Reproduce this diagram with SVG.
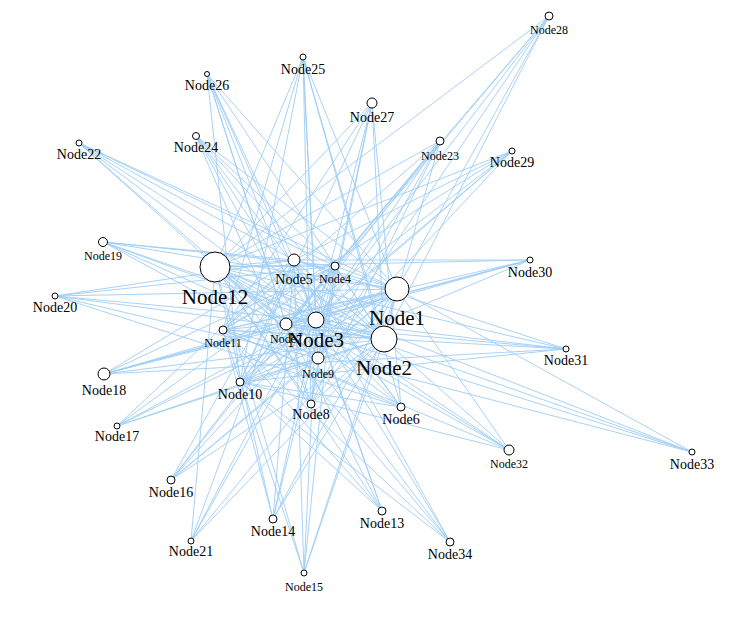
<svg xmlns="http://www.w3.org/2000/svg" width="745" height="620" viewBox="0 0 745 620">
<style>
.e{fill:none;stroke:#9fcdf5;stroke-width:1;stroke-opacity:0.9}
.n{fill:#fff;stroke:#000;stroke-width:1}
text{font-family:"Liberation Serif",serif;font-size:14px;text-anchor:middle;fill:#000}
.b{font-size:21px}
.s{font-size:12px}
</style>
<rect width="745" height="620" fill="#fff"/>
<g id="edges">
<path class="e" d="M549,16L397,289M549,16L384,339M549,16L316,320M549,16L335,266M549,16L318,358M549,16L215,267M549,16L240,382"/>
<path class="e" d="M303,57L397,289M303,57L384,339M303,57L316,320M303,57L215,267M303,57L318,358M303,57L311,404M303,57L401,407M303,57L240,382M303,57L223,330"/>
<path class="e" d="M207,74L397,289M207,74L316,320M207,74L384,339M207,74L318,358M207,74L240,382M207,74L311,404M207,74L294,260M207,74L286,324"/>
<path class="e" d="M372,103L384,339M372,103L316,320M372,103L215,267M372,103L240,382M372,103L311,404M372,103L318,358M372,103L401,407M372,103L223,330"/>
<path class="e" d="M440,141L215,267M440,141L223,330M440,141L240,382M440,141L316,320M440,141L286,324M440,141L311,404M440,141L171,480M440,141L318,358M440,141L384,339"/>
<path class="e" d="M512,151L215,267M512,151L316,320M512,151L294,260M512,151L286,324M512,151L240,382M512,151L223,330M512,151L318,358"/>
<path class="e" d="M79,143L397,289M79,143L384,339M79,143L316,320M79,143L294,260M79,143L286,324M79,143L335,266M79,143L318,358"/>
<path class="e" d="M196,136L397,289M196,136L384,339M196,136L316,320M196,136L318,358M196,136L401,407M196,136L311,404M196,136L335,266"/>
<path class="e" d="M103,242L397,289M103,242L384,339M103,242L316,320M103,242L335,266M103,242L294,260M103,242L286,324M103,242L318,358"/>
<path class="e" d="M55,296L397,289M55,296L384,339M55,296L316,320M55,296L335,266M55,296L294,260M55,296L318,358M55,296L401,407"/>
<path class="e" d="M530,260L215,267M530,260L223,330M530,260L240,382M530,260L316,320M530,260L294,260M530,260L286,324M530,260L104,374"/>
<path class="e" d="M566,349L215,267M566,349L223,330M566,349L240,382M566,349L316,320M566,349L286,324M566,349L294,260M566,349L104,374"/>
<path class="e" d="M104,374L397,289M104,374L384,339M104,374L335,266M104,374L294,260M104,374L316,320M104,374L286,324"/>
<path class="e" d="M117,426L397,289M117,426L384,339M117,426L335,266M117,426L294,260M117,426L316,320M117,426L318,358"/>
<path class="e" d="M171,480L397,289M171,480L384,339M171,480L316,320M171,480L335,266M171,480L294,260M171,480L318,358"/>
<path class="e" d="M191,541L397,289M191,541L384,339M191,541L316,320M191,541L335,266M191,541L294,260M191,541L215,267"/>
<path class="e" d="M273,519L397,289M273,519L384,339M273,519L316,320M273,519L335,266M273,519L294,260M273,519L215,267M273,519L223,330"/>
<path class="e" d="M304,573L397,289M304,573L384,339M304,573L316,320M304,573L335,266M304,573L294,260M304,573L215,267M304,573L223,330"/>
<path class="e" d="M382,511L215,267M382,511L223,330M382,511L316,320M382,511L294,260M382,511L286,324M382,511L240,382"/>
<path class="e" d="M450,542L215,267M450,542L223,330M450,542L316,320M450,542L294,260M450,542L286,324M450,542L240,382"/>
<path class="e" d="M509,450L215,267M509,450L223,330M509,450L316,320M509,450L294,260M509,450L286,324M509,450L240,382M509,450L397,289"/>
<path class="e" d="M692,452L215,267M692,452L223,330M692,452L286,324M692,452L316,320M692,452L397,289"/>
<path class="e" d="M397,289L384,339M397,289L316,320M397,289L335,266M397,289L294,260M397,289L286,324M397,289L318,358M397,289L240,382M397,289L223,330M397,289L215,267M397,289L311,404M384,339L316,320M384,339L335,266M384,339L294,260M384,339L286,324M384,339L240,382M384,339L223,330M384,339L215,267M384,339L311,404M316,320L335,266M316,320L294,260M316,320L240,382M316,320L223,330M316,320L215,267M316,320L401,407M215,267L335,266M215,267L294,260M215,267L286,324M215,267L318,358M215,267L401,407M215,267L311,404M223,330L294,260M223,330L335,266M223,330L401,407M240,382L294,260M240,382L335,266M240,382L401,407M294,260L401,407M335,266L311,404"/>
</g>
<g id="Node28"><circle class="n" cx="549" cy="16" r="4"/><text class="s" x="549" y="34">Node28</text></g>
<g id="Node25"><circle class="n" cx="303" cy="57" r="3"/><text x="303" y="74">Node25</text></g>
<g id="Node26"><circle class="n" cx="207" cy="74" r="2.5"/><text x="207" y="90">Node26</text></g>
<g id="Node27"><circle class="n" cx="372" cy="103" r="5"/><text x="372" y="122">Node27</text></g>
<g id="Node23"><circle class="n" cx="440" cy="141" r="4"/><text class="s" x="440" y="160">Node23</text></g>
<g id="Node29"><circle class="n" cx="512" cy="151" r="3"/><text x="512" y="167">Node29</text></g>
<g id="Node22"><circle class="n" cx="79" cy="143" r="3"/><text x="79" y="159">Node22</text></g>
<g id="Node24"><circle class="n" cx="196" cy="136" r="3.5"/><text x="196" y="152">Node24</text></g>
<g id="Node19"><circle class="n" cx="103" cy="242" r="4.5"/><text class="s" x="103" y="260">Node19</text></g>
<g id="Node12"><circle class="n" cx="215" cy="267" r="15"/><text class="b" x="215" y="304">Node12</text></g>
<g id="Node5"><circle class="n" cx="294" cy="260" r="6"/><text x="294" y="284">Node5</text></g>
<g id="Node4"><circle class="n" cx="335" cy="266" r="4"/><text class="s" x="335" y="283">Node4</text></g>
<g id="Node30"><circle class="n" cx="530" cy="260" r="3"/><text x="530" y="277">Node30</text></g>
<g id="Node20"><circle class="n" cx="55" cy="296" r="3"/><text x="55" y="312">Node20</text></g>
<g id="Node11"><circle class="n" cx="223" cy="330" r="4"/><text class="s" x="223" y="347">Node11</text></g>
<g id="Node7"><circle class="n" cx="286" cy="324" r="6"/><text class="s" x="286" y="343">Node7</text></g>
<g id="Node3"><circle class="n" cx="316" cy="320" r="8"/><text class="b" x="316" y="347">Node3</text></g>
<g id="Node1"><circle class="n" cx="397" cy="289" r="12"/><text class="b" x="397" y="325">Node1</text></g>
<g id="Node2"><circle class="n" cx="384" cy="339" r="13"/><text class="b" x="384" y="375">Node2</text></g>
<g id="Node31"><circle class="n" cx="566" cy="349" r="3"/><text x="566" y="365">Node31</text></g>
<g id="Node9"><circle class="n" cx="318" cy="358" r="6"/><text class="s" x="318" y="378">Node9</text></g>
<g id="Node18"><circle class="n" cx="104" cy="374" r="6"/><text x="104" y="395">Node18</text></g>
<g id="Node10"><circle class="n" cx="240" cy="382" r="4"/><text x="240" y="399">Node10</text></g>
<g id="Node8"><circle class="n" cx="311" cy="404" r="4"/><text x="311" y="419">Node8</text></g>
<g id="Node6"><circle class="n" cx="401" cy="407" r="4"/><text x="401" y="424">Node6</text></g>
<g id="Node17"><circle class="n" cx="117" cy="426" r="3"/><text x="117" y="441">Node17</text></g>
<g id="Node32"><circle class="n" cx="509" cy="450" r="5"/><text class="s" x="509" y="468">Node32</text></g>
<g id="Node33"><circle class="n" cx="692" cy="452" r="3"/><text x="692" y="469">Node33</text></g>
<g id="Node16"><circle class="n" cx="171" cy="480" r="4"/><text x="171" y="497">Node16</text></g>
<g id="Node14"><circle class="n" cx="273" cy="519" r="4"/><text x="273" y="536">Node14</text></g>
<g id="Node13"><circle class="n" cx="382" cy="511" r="4"/><text x="382" y="528">Node13</text></g>
<g id="Node34"><circle class="n" cx="450" cy="542" r="4"/><text x="450" y="559">Node34</text></g>
<g id="Node21"><circle class="n" cx="191" cy="541" r="3"/><text x="191" y="556">Node21</text></g>
<g id="Node15"><circle class="n" cx="304" cy="573" r="3"/><text class="s" x="304" y="591">Node15</text></g>
</svg>
